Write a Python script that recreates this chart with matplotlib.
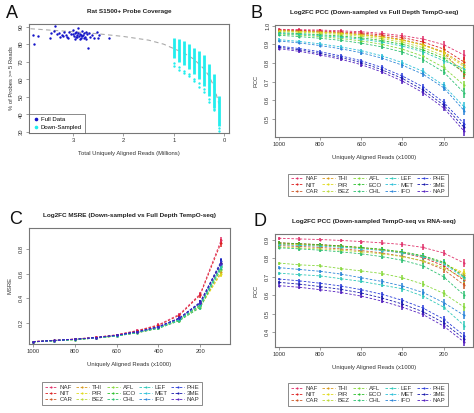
import matplotlib
matplotlib.use("Agg")
import matplotlib.pyplot as plt
from matplotlib.lines import Line2D
import numpy as np

plt.rcParams['font.family'] = ['Liberation Sans', 'DejaVu Sans']

# ---- panel A data ----
full_x = [3.81, 3.79, 3.70, 3.46, 3.45, 3.36, 3.39, 3.29, 3.26, 3.22, 3.18, 3.15, 3.12, 3.08,
          3.05, 3.01, 2.99, 2.97, 2.95, 2.93, 2.91, 2.90, 2.88, 2.86, 2.84, 2.82, 2.80, 2.78,
          2.76, 2.74, 2.72, 2.70, 2.68, 2.66, 2.62, 2.58, 2.53, 2.50, 2.48, 2.29, 3.10, 3.00,
          2.94, 2.87, 2.83, 2.79, 2.75, 3.20, 3.33, 2.96, 2.92, 2.85]
full_y = [85.0, 80.3, 84.8, 83.8, 86.5, 90.2, 87.3, 86.3, 84.0, 85.2, 86.8, 85.5, 84.2, 86.9,
          85.8, 88.3, 84.7, 86.1, 83.9, 85.4, 89.2, 86.6, 84.5, 85.9, 83.3, 87.4, 85.0, 86.2,
          84.1, 82.8, 85.6, 78.0, 86.4, 84.3, 85.1, 83.6, 86.9, 83.7, 85.3, 83.4, 83.5, 85.9,
          87.0, 83.1, 84.9, 83.8, 86.7, 84.4, 85.7, 82.9, 84.0, 85.2]

ds_x = [1.0, 0.9, 0.8, 0.7, 0.6, 0.5, 0.4, 0.3, 0.2, 0.1]
ds_top = [83.4, 82.9, 81.9, 80.0, 77.6, 76.1, 73.8, 68.9, 63.1, 50.6]
ds_bot = [71.9, 69.9, 68.0, 66.1, 63.2, 60.3, 56.4, 50.6, 43.9, 33.2]
ds_low1 = [69.0, 66.8, 65.0, 63.0, 60.2, 57.8, 54.2, 48.5, 43.0, 32.0]
ds_low2 = [67.6, 65.5, 63.6, 61.8, 58.8, 55.6, 52.8, 46.8, 42.4, 30.3]

fit_x = [3.85, 3.5, 3.0, 2.5, 2.0, 1.5, 1.2, 1.0, 0.8, 0.6, 0.4, 0.3, 0.2, 0.1]
fit_y = [88.8, 88.1, 87.1, 85.9, 84.4, 82.3, 80.0, 77.5, 75.0, 71.5, 66.0, 62.0, 56.0, 46.0]

# ---- panels B, C, D data ----
reads = [1000, 900, 800, 700, 600, 500, 400, 300, 200, 100]
chems = ["NAF", "NIT", "CAR", "THI", "PIR", "BEZ", "AFL", "ECO", "CHL",
         "LEF", "MET", "IFO", "PHE", "3ME", "NAP"]
colours = ["#E0306A", "#DD2020", "#CC5A28", "#D89A1C", "#E0DA1C", "#BCD83A",
           "#86D83A", "#2CC02C", "#2CC070", "#2CC8B8", "#2CC0D8", "#2A84D8",
           "#2A3CD8", "#1818AC", "#5420C0"]

pcc_full = {
    "NAF": [0.980, 0.978, 0.976, 0.972, 0.967, 0.958, 0.946, 0.928, 0.898, 0.842],
    "NIT": [0.977, 0.974, 0.971, 0.966, 0.960, 0.950, 0.936, 0.912, 0.875, 0.805],
    "CAR": [0.975, 0.971, 0.967, 0.961, 0.954, 0.942, 0.925, 0.898, 0.855, 0.740],
    "THI": [0.973, 0.969, 0.965, 0.959, 0.951, 0.940, 0.923, 0.898, 0.860, 0.790],
    "PIR": [0.972, 0.968, 0.964, 0.958, 0.950, 0.938, 0.921, 0.895, 0.855, 0.780],
    "BEZ": [0.968, 0.964, 0.959, 0.952, 0.943, 0.930, 0.911, 0.882, 0.838, 0.760],
    "AFL": [0.955, 0.949, 0.941, 0.931, 0.918, 0.900, 0.874, 0.836, 0.776, 0.680],
    "ECO": [0.962, 0.957, 0.951, 0.944, 0.934, 0.920, 0.900, 0.870, 0.825, 0.750],
    "CHL": [0.948, 0.941, 0.932, 0.921, 0.906, 0.886, 0.858, 0.818, 0.752, 0.640],
    "LEF": [0.958, 0.953, 0.946, 0.938, 0.927, 0.912, 0.890, 0.860, 0.812, 0.770],
    "MET": [0.925, 0.915, 0.902, 0.886, 0.866, 0.838, 0.802, 0.755, 0.680, 0.565],
    "IFO": [0.918, 0.907, 0.893, 0.876, 0.855, 0.826, 0.788, 0.740, 0.668, 0.545],
    "PHE": [0.890, 0.877, 0.860, 0.838, 0.812, 0.776, 0.730, 0.672, 0.590, 0.475],
    "3ME": [0.884, 0.870, 0.851, 0.829, 0.802, 0.764, 0.717, 0.656, 0.575, 0.455],
    "NAP": [0.877, 0.862, 0.843, 0.820, 0.791, 0.752, 0.703, 0.641, 0.560, 0.435],
}
msre_full = {
    "NAF": [0.050, 0.060, 0.070, 0.085, 0.105, 0.140, 0.185, 0.270, 0.435, 0.870],
    "NIT": [0.050, 0.060, 0.070, 0.084, 0.103, 0.137, 0.180, 0.262, 0.425, 0.850],
    "CAR": [0.048, 0.058, 0.068, 0.080, 0.098, 0.127, 0.165, 0.235, 0.360, 0.690],
    "THI": [0.047, 0.057, 0.066, 0.078, 0.095, 0.122, 0.158, 0.222, 0.335, 0.610],
    "PIR": [0.047, 0.057, 0.066, 0.078, 0.095, 0.122, 0.158, 0.220, 0.330, 0.600],
    "BEZ": [0.047, 0.057, 0.066, 0.078, 0.096, 0.123, 0.160, 0.225, 0.340, 0.630],
    "AFL": [0.047, 0.057, 0.066, 0.078, 0.096, 0.124, 0.160, 0.226, 0.345, 0.650],
    "ECO": [0.047, 0.057, 0.067, 0.079, 0.097, 0.125, 0.162, 0.228, 0.345, 0.660],
    "CHL": [0.046, 0.056, 0.065, 0.077, 0.094, 0.121, 0.156, 0.218, 0.325, 0.640],
    "LEF": [0.047, 0.057, 0.066, 0.078, 0.096, 0.123, 0.159, 0.224, 0.340, 0.655],
    "MET": [0.048, 0.058, 0.067, 0.080, 0.098, 0.126, 0.164, 0.232, 0.355, 0.670],
    "IFO": [0.048, 0.058, 0.068, 0.081, 0.099, 0.128, 0.166, 0.235, 0.360, 0.680],
    "PHE": [0.049, 0.059, 0.069, 0.082, 0.101, 0.131, 0.170, 0.240, 0.370, 0.700],
    "3ME": [0.049, 0.059, 0.069, 0.082, 0.101, 0.130, 0.170, 0.240, 0.365, 0.690],
    "NAP": [0.048, 0.058, 0.068, 0.081, 0.100, 0.129, 0.168, 0.238, 0.362, 0.675],
}
pcc_rna = {
    "NAF": [0.910, 0.906, 0.903, 0.898, 0.892, 0.885, 0.876, 0.860, 0.830, 0.775],
    "NIT": [0.885, 0.880, 0.875, 0.868, 0.858, 0.846, 0.830, 0.805, 0.760, 0.680],
    "CAR": [0.870, 0.865, 0.860, 0.852, 0.843, 0.830, 0.812, 0.785, 0.740, 0.655],
    "THI": [0.880, 0.876, 0.872, 0.866, 0.858, 0.848, 0.834, 0.812, 0.775, 0.710],
    "PIR": [0.878, 0.874, 0.870, 0.864, 0.856, 0.846, 0.832, 0.810, 0.772, 0.720],
    "BEZ": [0.862, 0.857, 0.852, 0.845, 0.836, 0.825, 0.810, 0.788, 0.750, 0.690],
    "AFL": [0.775, 0.765, 0.760, 0.745, 0.732, 0.718, 0.695, 0.660, 0.610, 0.535],
    "ECO": [0.885, 0.880, 0.875, 0.868, 0.860, 0.850, 0.836, 0.815, 0.780, 0.700],
    "CHL": [0.858, 0.852, 0.845, 0.836, 0.825, 0.810, 0.790, 0.760, 0.700, 0.600],
    "LEF": [0.720, 0.712, 0.705, 0.690, 0.675, 0.655, 0.635, 0.595, 0.535, 0.435],
    "MET": [0.875, 0.871, 0.867, 0.861, 0.853, 0.843, 0.830, 0.810, 0.772, 0.695],
    "IFO": [0.750, 0.740, 0.730, 0.715, 0.695, 0.675, 0.650, 0.615, 0.560, 0.490],
    "PHE": [0.688, 0.678, 0.665, 0.650, 0.630, 0.605, 0.572, 0.530, 0.470, 0.380],
    "3ME": [0.670, 0.660, 0.647, 0.632, 0.612, 0.585, 0.552, 0.510, 0.450, 0.362],
    "NAP": [0.652, 0.643, 0.630, 0.615, 0.595, 0.568, 0.535, 0.495, 0.432, 0.345],
}
# half-range of the replicate clusters at each read depth
spread_b = [0.006, 0.007, 0.008, 0.008, 0.010, 0.012, 0.014, 0.016, 0.018, 0.025]
spread_c = [0.004, 0.004, 0.005, 0.006, 0.008, 0.010, 0.012, 0.015, 0.020, 0.030]
spread_d = [0.008, 0.009, 0.009, 0.010, 0.011, 0.013, 0.015, 0.016, 0.018, 0.022]

W, H = 474, 413
fig = plt.figure(figsize=(W / 100, H / 100), dpi=100)

def box(l, t, r, b):
    return [l / W, 1 - b / H, (r - l) / W, (b - t) / H]

def style(ax):
    for s in ax.spines.values():
        s.set_color("#777777")
        s.set_linewidth(0.8)
    ax.tick_params(length=2, width=0.5, color="#777777", labelsize=4.2, pad=1.5,
                   labelcolor="#333333")
    for lab in ax.get_yticklabels():
        lab.set_rotation(90)
        lab.set_va("center")

tfont = dict(fontsize=4.6, fontweight="bold", color="#222222")
lfont = dict(fontsize=4.2, color="#333333")

# ---- A ----
axA = fig.add_axes(box(29, 24, 229, 133))
axA.plot(fit_x, fit_y, ls=(0, (4, 3)), color="#aaaaaa", lw=0.8, zorder=1)
axA.vlines(ds_x, ds_bot, ds_top, color="#22EEEE", lw=2.0, zorder=2)
axA.scatter(ds_x, ds_low1, s=3, color="#22EEEE", zorder=2, linewidths=0)
axA.scatter(ds_x, ds_low2, s=3, color="#22EEEE", zorder=2, linewidths=0)
axA.scatter(full_x, full_y, s=3, color="#1414C8", zorder=3, linewidths=0)
axA.set_xlim(3.88, -0.1)
axA.set_ylim(29.4, 91.5)
axA.set_xticks([3, 2, 1, 0])
axA.set_yticks([30, 40, 50, 60, 70, 80, 90])
style(axA)
axA.set_title("Rat S1500+ Probe Coverage", pad=8, **tfont)
axA.set_xlabel("Total Uniquely Aligned Reads (Millions)", labelpad=6, **lfont)
axA.set_ylabel("% of Probes >= 5 Reads", labelpad=4, **lfont)
hA = [Line2D([], [], ls="", marker="o", ms=1.6, color="#1414C8"),
      Line2D([], [], ls="", marker="o", ms=1.6, color="#22EEEE")]
legA = axA.legend(hA, ["Full Data", "Down-Sampled"], loc="lower left", fontsize=4.3,
                  frameon=True, fancybox=False, borderaxespad=0, handlelength=1.2,
                  handletextpad=0.3, labelspacing=0.4, borderpad=0.5)
legA.get_frame().set_edgecolor("#555555")
legA.get_frame().set_linewidth(0.6)

def series_panel(rect, data, spread, lims, yticks, title, ylabel):
    ax = fig.add_axes(rect)
    for name, col in zip(chems, colours):
        vals = np.array(data[name])
        sp = np.array(spread)
        ax.vlines(reads, vals - sp, vals + sp, color=col, lw=1.1, zorder=2)
        ax.plot(reads, vals, ls=(0, (3, 2)), lw=0.6, color=col, marker="o", ms=1.5,
                mew=0, zorder=3)
    ax.set_xlim(1019, 57)
    ax.set_ylim(*lims)
    ax.set_xticks([1000, 800, 600, 400, 200])
    ax.set_yticks(yticks)
    style(ax)
    ax.set_title(title, pad=8, **tfont)
    ax.set_xlabel("Uniquely Aligned Reads (x1000)", labelpad=6, **lfont)
    ax.set_ylabel(ylabel, labelpad=5, **lfont)
    return ax

def chem_legend(l, t, r, b):
    handles = [Line2D([], [], ls=(0, (3, 2)), lw=0.6, color=c, marker="o", ms=1.5, mew=0)
               for c in colours]
    leg = fig.legend(handles, chems, ncol=5, loc="center",
                     bbox_to_anchor=((l + r) / 2 / W, 1 - (t + b) / 2 / H),
                     fontsize=4.4, frameon=True, fancybox=False, handlelength=2.0,
                     handletextpad=0.5, columnspacing=0.6, labelspacing=0.15,
                     borderpad=0.4)
    leg.get_frame().set_edgecolor("#555555")
    leg.get_frame().set_linewidth(0.6)
    for t_ in leg.get_texts():
        t_.set_color("#333333")

series_panel(box(275, 25, 473, 137), pcc_full, spread_b, (0.404, 1.003),
             [0.5, 0.6, 0.7, 0.8, 0.9, 1.0],
             "Log2FC PCC (Down-sampled vs Full Depth TempO-seq)", "PCC")
chem_legend(289, 172, 447, 198)

series_panel(box(29, 228, 230, 344), msre_full, spread_c, (0.03, 0.97),
             [0.2, 0.4, 0.6, 0.8],
             "Log2FC MSRE (Down-sampled vs Full Depth TempO-seq)", "MSRE")
chem_legend(47, 380, 197, 407)

series_panel(box(275, 234, 473, 347), pcc_rna, spread_d, (0.318, 0.933),
             [0.4, 0.5, 0.6, 0.7, 0.8, 0.9],
             "Log2FC PCC (Down-sampled TempO-seq vs RNA-seq)", "PCC")
chem_legend(289, 382, 447, 407)

for letter, x, y in [("A", 6, 18), ("B", 251, 18), ("C", 9, 224), ("D", 253, 226)]:
    fig.text(x / W, 1 - y / H, letter, fontsize=13, color="#111111")

fig.savefig("out.png", dpi=100)
